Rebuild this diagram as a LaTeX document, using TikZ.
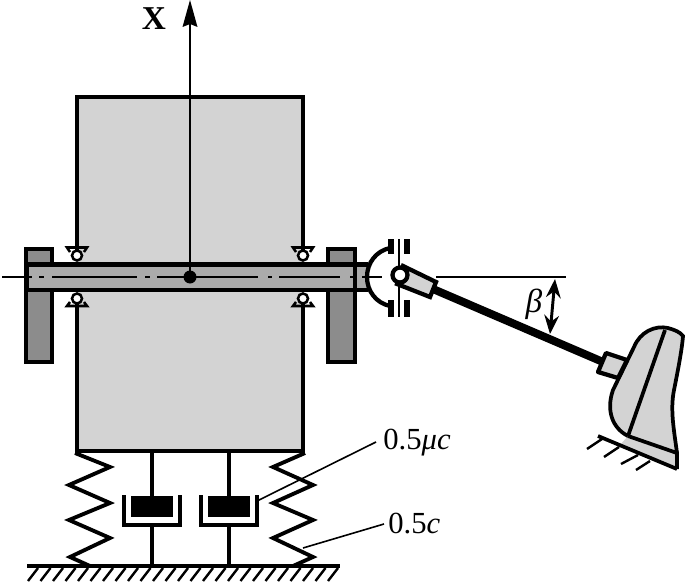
\documentclass[tikz,border=0pt]{standalone}
\usepackage{fontspec}
\setmainfont{Liberation Serif}
\usetikzlibrary{arrows.meta}
\definecolor{bodygray}{HTML}{D3D3D3}
\definecolor{shaftgray}{HTML}{ABABAB}
\definecolor{discgray}{HTML}{8C8C8C}
\tikzset{
  heavy/.style={line width=3.2pt,line join=miter},
  medium/.style={line width=2.9pt},
  thin line/.style={line width=1.5pt},
  hair/.style={line width=1.2pt},
  hatch/.style={line width=1.8pt},
  lbl/.style={font=\fontsize{23}{26}\selectfont,inner sep=0pt,text=black}
}
\begin{document}
\begin{tikzpicture}[x=0.75pt,y=-0.75pt]
\path[use as bounding box,fill=white] (0,0) rectangle (685,585);
% body
\fill[bodygray] (77,97) rectangle (303,451);
\draw[medium] (77,250) -- (77,97) -- (303,97) -- (303,250);
\draw[medium] (77,304) -- (77,451) -- (303,451) -- (303,304);
% discs
\draw[heavy,fill=discgray] (26,249) rectangle (52,362);
\draw[heavy,fill=discgray] (328,249) rectangle (355,362);
% shaft
\fill[shaftgray] (27,264.5) rectangle (368,290);
\draw[heavy] (27,264.5) -- (368,264.5);
\draw[heavy] (27,290) -- (368,290);
\draw[heavy] (27,264) -- (27,291);
\draw[heavy] (355,249) -- (355,291);
% centre line
\foreach \a/\b in {2/32,39/44,52/137,145/150,157/258,268/272,279/340,350/354,362/382}
  \draw[thin line] (\a,277) -- (\b,277);
% bearings
\foreach \bx in {77,303}{
  \draw[line width=1.9pt,fill=white] (\bx,255.5) circle (5);
  \draw[line width=1.9pt,fill=white] (\bx,298.5) circle (5);
  \draw[line width=1.9pt] (\bx-7,252) -- (\bx-10,247.5) -- (\bx+10,247.5) -- (\bx+7,252);
  \draw[line width=1.9pt] (\bx-7,302) -- (\bx-10,306) -- (\bx+10,306) -- (\bx+7,302);
}
% axis
\draw[line width=2.2pt] (190,277) -- (190,20);
\fill (190,0) -- (197.5,27) -- (190,24) -- (182.5,27) -- cycle;
\fill (190,277) circle (6.5);
\node[lbl,font=\fontsize{25}{28}\selectfont\bfseries] (xlabel) at (154,18.5) {X};
% yoke
\draw[heavy] (390,248) .. controls (376,251) and (367,263) .. (367,277) .. controls (367,291) and (376,303) .. (390,306);
\draw[line width=2.2pt] (399,239) -- (399,317);
\draw[line width=4pt] (391,239) -- (391,254);
\draw[line width=4pt] (391,300) -- (391,317);
\draw[line width=4pt] (407,239) -- (407,254);
\draw[line width=4pt] (407,300) -- (407,317);
% reference line
\draw[thin line] (436,277) -- (566,277);
% rod and link
\draw[line width=6pt] (433,289) -- (603,362);
\draw[heavy,fill=bodygray] (403,266) -- (436,282) -- (430,297) -- (397,284) -- cycle;
\draw[heavy,fill=white] (400,275) circle (7.5);
% pedal
\fill[bodygray] (628,436) -- (677,453) -- (677,469) -- (620,445) -- cycle;
\draw[line width=2.8pt,fill=bodygray] (628,436) .. controls (612,428) and (606,410) .. (613,390)
  -- (634,347) .. controls (640,332) and (655,325) .. (668,328)
  .. controls (675,330) and (680,332) .. (683,336)
  .. controls (682,350) and (677,375) .. (674,390)
  .. controls (670,410) and (674,430) .. (677,453);
\draw[line width=2.8pt] (628,436) -- (677,453) -- (677,469);
\draw[line width=2.8pt] (628,436) -- (665,330);
\draw[line width=2.8pt] (598,436) -- (677,469);
\draw[heavy,fill=bodygray,line join=round] (606,353) -- (627,360) -- (618,378) -- (598,372) -- cycle;
\foreach \a/\b/\c/\d in {602/439/587/449,619/447/604/457,638/455/621/464,650/461/636/470}
  \draw[hatch] (\a,\b) -- (\c,\d);
% beta arrow
\draw[line width=2.2pt,{Stealth[length=14pt,width=11pt]}-{Stealth[length=14pt,width=11pt]}] (555,279) -- (550,334);
\node[lbl,font=\fontsize{25}{28}\selectfont\itshape] (betalabel) at (534,304) {β};
% dampers
\foreach \rx in {152,229}{
  \draw[medium] (\rx,451) -- (\rx,497);
  \draw[medium] (\rx,525) -- (\rx,566);
  \fill (\rx-21,496) rectangle (\rx+21,517);
  \draw[line width=2.6pt] (\rx-28,495) -- (\rx-28,525) -- (\rx+28,525) -- (\rx+28,495);
}
% springs
\draw[medium,line join=miter] (75,453) -- (110,467) -- (69,485) -- (110,503) -- (69,520) -- (110,538) -- (70,557) -- (90,566);
\draw[medium,line join=miter] (305,453) -- (273,467) -- (313,485) -- (273,503) -- (313,520) -- (273,538) -- (313,557) -- (293,566);
% ground
\draw[medium] (27,566) -- (340,566);
\foreach \hx in {38,50.5,...,340}
  \draw[hatch] (\hx,568) -- (\hx-10,581);
% labels and leaders
\coordinate (la) at (257,501);
\coordinate (lb) at (303,548);
\node[lbl,anchor=base west] (mulabel) at (383,449) {0.5\textit{μc}};
\node[lbl,anchor=base west] (clabel) at (388,533) {0.5\textit{c}};
\draw[hair] (la) -- (376,442);
\draw[hair] (lb) -- (384,524);
\end{tikzpicture}
\end{document}
